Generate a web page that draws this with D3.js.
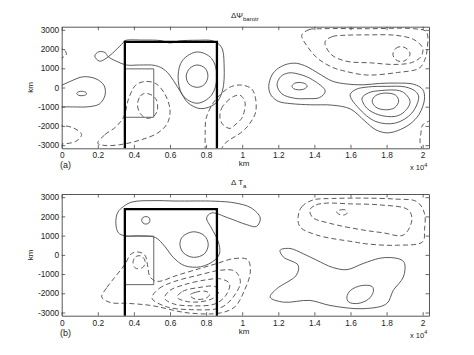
<html lang='en'>
<head>
<meta charset='utf-8'>
<title>Delta Psi barotr and Delta Ta</title>
<script src="https://d3js.org/d3.v7.min.js"></script>
<style>
  body { margin: 0; background: #fff; }
  text { font-family: "Liberation Sans", Arial, sans-serif; fill: #222; }
</style>
</head>
<body>
<script>
// ---- data (x in units of 1e4 km, y in km) ----
var xTicks = [0, 0.2, 0.4, 0.6, 0.8, 1, 1.2, 1.4, 1.6, 1.8, 2];
var yTicks = [-3000, -2000, -1000, 0, 1000, 2000, 3000];

// outlined regions drawn on both panels
var bigBox = [[0.35, -3300], [0.35, 2380], [0.86, 2380], [0.86, -3300]];
var smallBox = [[0.35, 970], [0.51, 970], [0.51, -1550], [0.35, -1550]];

// panel (a) delta psi barotr : positive contours (solid)
var psiPosClosed = [
  [[0.083,-310],[0.095,-220],[0.115,-200],[0.135,-260],[0.137,-350],[0.12,-420],[0.095,-410]],
  [[0.35,2440],[0.45,2470],[0.55,2440],[0.6,2320],[0.65,2420],[0.75,2460],[0.84,2420],[0.885,2100],[0.9,1100],[0.89,-200],[0.85,-850],[0.77,-1100],[0.7,-800],[0.66,-250],[0.62,350],[0.575,880],[0.52,1140],[0.43,1170],[0.36,1170],[0.3,1380],[0.258,1600],[0.24,1820],[0.205,1860],[0.183,1640],[0.21,1370],[0.258,1600],[0.3,1950],[0.34,2330]],
  [[0.645,600],[0.67,1420],[0.75,1850],[0.83,1520],[0.86,600],[0.83,-400],[0.75,-820],[0.67,-400]],
  [[0.69,600],[0.71,1000],[0.75,1170],[0.795,1000],[0.81,580],[0.79,150],[0.75,10],[0.705,180]],
  [[1.147,50],[1.165,650],[1.2,1000],[1.25,1220],[1.3,1260],[1.36,1080],[1.42,750],[1.5,330],[1.58,180],[1.67,140],[1.76,210],[1.86,230],[1.95,170],[2.0,-100],[2.01,-600],[1.98,-1400],[1.93,-1900],[1.86,-2250],[1.8,-2360],[1.74,-2200],[1.68,-1750],[1.6,-1120],[1.5,-920],[1.38,-900],[1.27,-840],[1.2,-720],[1.16,-400]],
  [[1.193,140],[1.215,580],[1.258,760],[1.32,680],[1.39,400],[1.46,-180],[1.43,-520],[1.36,-580],[1.29,-560],[1.22,-330]],
  [[1.276,70],[1.29,220],[1.32,260],[1.35,190],[1.36,60],[1.34,-90],[1.31,-120],[1.285,-60]],
  [[1.598,-380],[1.63,-100],[1.7,30],[1.8,60],[1.904,30],[1.96,-200],[1.978,-500],[1.94,-1330],[1.85,-1850],[1.74,-1770],[1.645,-1070]],
  [[1.664,-550],[1.7,-280],[1.756,-170],[1.885,-210],[1.93,-730],[1.9,-1250],[1.85,-1500],[1.756,-1420],[1.69,-1070]],
  [[1.72,-700],[1.74,-420],[1.793,-290],[1.85,-400],[1.867,-700],[1.845,-1050],[1.793,-1160],[1.74,-1020]]
];
var psiPosOpen = [
  [[-0.02,20],[0.05,330],[0.12,560],[0.19,450],[0.235,100],[0.24,-400],[0.21,-850],[0.15,-1000],[0.06,-1010],[-0.02,-1000]]
];
// panel (a) negative contours (dashed)
var psiNegClosed = [
  [[0.2,-2900],[0.24,-2450],[0.3,-2050],[0.345,-1500],[0.37,-600],[0.41,120],[0.46,310],[0.52,210],[0.57,-310],[0.6,-1170],[0.585,-1870],[0.53,-2380],[0.43,-2750],[0.32,-2980],[0.24,-3020]],
  [[0.42,-900],[0.435,-450],[0.46,-310],[0.5,-400],[0.525,-650],[0.53,-1170],[0.51,-1500],[0.47,-1600],[0.435,-1350]],
  [[0.877,-1610],[0.885,-1100],[0.905,-830],[0.95,-480],[0.988,-400],[1.015,-745],[1.01,-1300],[0.997,-1610],[0.96,-1950],[0.932,-2130],[0.895,-1950]],
  [[1.33,2720],[1.37,3010],[1.45,3060],[1.7,3060],[1.95,3060],[2.02,2900],[2.025,2000],[2.01,1400],[1.98,1000],[1.86,780],[1.69,650],[1.57,850],[1.5,1050],[1.42,1500],[1.36,2150]],
  [[1.459,2380],[1.5,2650],[1.57,2720],[1.7,2740],[1.847,2720],[1.95,2500],[2.0,2050],[1.99,1600],[1.94,1300],[1.847,1200],[1.717,1280],[1.57,1380],[1.49,1750]],
  [[1.835,1740],[1.85,2030],[1.88,2130],[1.915,2000],[1.93,1740],[1.91,1450],[1.88,1350],[1.85,1450]]
];
var psiNegOpen = [
  [[-0.02,2150],[0.02,1900],[0.025,1700],[-0.02,1450]],
  [[-0.02,-1950],[0.064,-2100],[0.11,-2450],[0.075,-2820],[-0.02,-2950]],
  [[0.795,-3300],[0.795,-2400],[0.8,-1610],[0.84,-800],[0.885,-310],[0.94,50],[0.997,125],[1.05,-50],[1.07,-400],[1.075,-1265],[1.04,-1900],[1.0,-2300],[0.905,-2910],[0.88,-3300]],
  [[2.05,-1700],[2.0,-1950],[1.99,-2400],[1.985,-2800],[2.0,-3300]]
];

// panel (b) delta Ta : positive contours (solid)
var taPosClosed = [
  [[0.3,1640],[0.31,2200],[0.342,2510],[0.39,2750],[0.517,2820],[0.628,2800],[0.85,2790],[0.96,2700],[1.05,2440],[1.1,1920],[1.08,1480],[1.025,1570],[0.923,1920],[0.83,2180],[0.803,1920],[0.83,1390],[0.867,700],[0.875,100],[0.85,-260],[0.77,-620],[0.68,-560],[0.62,-150],[0.57,450],[0.52,900],[0.434,990],[0.35,990],[0.314,1150]],
  [[0.655,540],[0.67,950],[0.73,1200],[0.79,1000],[0.812,540],[0.79,50],[0.73,-130],[0.675,100]],
  [[0.443,1800],[0.45,1940],[0.466,1990],[0.483,1940],[0.489,1800],[0.483,1660],[0.466,1600],[0.45,1660]],
  [[1.21,240],[1.265,330],[1.34,50],[1.413,-280],[1.5,-650],[1.58,-770],[1.67,-450],[1.76,-180],[1.82,-140],[1.88,-250],[1.9,-450],[1.893,-1150],[1.837,-1850],[1.8,-2540],[1.67,-2800],[1.486,-2630],[1.375,-2370],[1.228,-2460],[1.155,-2200],[1.192,-1760],[1.3,-1060],[1.31,-540],[1.228,-110]],
  [[1.58,-2200],[1.6,-1850],[1.66,-1600],[1.72,-1650],[1.727,-1900],[1.7,-2300],[1.64,-2530],[1.59,-2450]]
];
var taPosOpen = [];
// panel (b) negative contours (dashed)
var taNegClosed = [
  [[1.31,1990],[1.33,2500],[1.394,2860],[1.5,2930],[1.67,2950],[1.85,2900],[1.967,2770],[2.01,2160],[2.01,1300],[2.0,680],[1.855,500],[1.7,560],[1.615,680],[1.413,1030],[1.32,1460]],
  [[1.375,2340],[1.41,2600],[1.468,2690],[1.6,2650],[1.76,2600],[1.92,2340],[1.94,1810],[1.893,1030],[1.78,1150],[1.67,1290],[1.486,1640],[1.39,1950]],
  [[1.523,2250],[1.545,2340],[1.575,2320],[1.58,2150],[1.56,2070],[1.535,2120]],
  [[0.222,-2200],[0.25,-1700],[0.3,-1100],[0.35,-500],[0.385,50],[0.42,150],[0.46,0],[0.475,-500],[0.49,-1150],[0.53,-1380],[0.64,-1060],[0.766,-710],[0.86,-450],[0.95,-200],[1.03,-250],[1.045,-900],[1.01,-1900],[0.96,-2700],[0.88,-3020],[0.7,-3020],[0.5,-2640],[0.36,-2520],[0.27,-2480]],
  [[0.395,-400],[0.41,-100],[0.44,-60],[0.462,-320],[0.45,-650],[0.41,-700]],
  [[0.5,-2250],[0.54,-1750],[0.62,-1400],[0.76,-1050],[0.88,-800],[0.96,-850],[0.99,-1400],[0.95,-2200],[0.88,-2750],[0.72,-2850],[0.58,-2700]],
  [[0.57,-2250],[0.6,-1850],[0.68,-1550],[0.8,-1300],[0.88,-1250],[0.93,-1500],[0.91,-2100],[0.85,-2550],[0.72,-2650],[0.62,-2550]],
  [[0.64,-2200],[0.67,-1900],[0.76,-1700],[0.85,-1650],[0.87,-1900],[0.84,-2250],[0.76,-2450],[0.68,-2400]],
  [[0.71,-2100],[0.74,-1950],[0.8,-1900],[0.82,-2050],[0.8,-2250],[0.74,-2300]]
];
var taNegOpen = [];

// ---- layout ----
var width = 474, height = 355;
var panels = [
  {key: 'a', title: ['\u0394\u03A8', 'barotr'], top: 26.7, bottom: 148.3,
   pos: psiPosClosed, posOpen: psiPosOpen, neg: psiNegClosed, negOpen: psiNegOpen},
  {key: 'b', title: ['\u0394 T', 'a'], top: 194, bottom: 315.7,
   pos: taPosClosed, posOpen: taPosOpen, neg: taNegClosed, negOpen: taNegOpen}
];

var svg = d3.select('body').append('svg')
  .attr('width', width)
  .attr('height', height);

var x = d3.scaleLinear().domain([0, 2.035]).range([61.7, 429]);

panels.forEach(function(p) {
  var y = d3.scaleLinear().domain([-3165, 3165]).range([p.bottom, p.top]);
  var g = svg.append('g');

  g.append('clipPath').attr('id', 'clip-' + p.key)
    .append('rect')
    .attr('x', x(0)).attr('y', p.top)
    .attr('width', x(2.035) - x(0)).attr('height', p.bottom - p.top);

  var closed = d3.line().x(function(d){ return x(d[0]); }).y(function(d){ return y(d[1]); })
    .curve(d3.curveCatmullRomClosed.alpha(0.5));
  var open = d3.line().x(function(d){ return x(d[0]); }).y(function(d){ return y(d[1]); })
    .curve(d3.curveCatmullRom.alpha(0.5));

  var cg = g.append('g').attr('clip-path', 'url(#clip-' + p.key + ')')
    .attr('fill', 'none').attr('stroke', '#4a4a4a').attr('stroke-width', 0.9);

  cg.selectAll('path.pos').data(p.pos).enter().append('path')
    .attr('class', 'pos').attr('d', closed);
  cg.selectAll('path.posopen').data(p.posOpen).enter().append('path')
    .attr('class', 'posopen').attr('d', open);
  cg.selectAll('path.neg').data(p.neg).enter().append('path')
    .attr('class', 'neg').attr('d', closed).attr('stroke-dasharray', '5,3');
  cg.selectAll('path.negopen').data(p.negOpen).enter().append('path')
    .attr('class', 'negopen').attr('d', open).attr('stroke-dasharray', '5,3');

  // small thin box, then thick box
  cg.append('path')
    .attr('d', d3.line().x(function(d){ return x(d[0]); }).y(function(d){ return y(d[1]); })(smallBox) + 'Z')
    .attr('stroke', '#555').attr('stroke-width', 0.9);
  cg.append('path')
    .attr('d', d3.line().x(function(d){ return x(d[0]); }).y(function(d){ return y(d[1]); })(bigBox))
    .attr('stroke', '#000').attr('stroke-width', 2.3);

  // axes: inward ticks on all four sides
  var fmt = function(d){ return String(d); };
  var bottomAx = g.append('g').attr('transform', 'translate(0,' + p.bottom + ')')
    .call(d3.axisBottom(x).tickValues(xTicks).tickSizeInner(-3.5).tickSizeOuter(0).tickPadding(4).tickFormat(fmt));
  var topAx = g.append('g').attr('transform', 'translate(0,' + p.top + ')')
    .call(d3.axisTop(x).tickValues(xTicks).tickSizeInner(-3.5).tickSizeOuter(0).tickFormat(''));
  var leftAx = g.append('g').attr('transform', 'translate(' + x(0) + ',0)')
    .call(d3.axisLeft(y).tickValues(yTicks).tickSizeInner(-3.5).tickSizeOuter(0).tickPadding(2.5).tickFormat(fmt));
  var rightAx = g.append('g').attr('transform', 'translate(' + x(2.035) + ',0)')
    .call(d3.axisRight(y).tickValues(yTicks).tickSizeInner(-3.5).tickSizeOuter(0).tickFormat(''));

  [bottomAx, topAx, leftAx, rightAx].forEach(function(a) {
    a.selectAll('path.domain').attr('stroke', '#444').attr('stroke-width', 0.9);
    a.selectAll('line').attr('stroke', '#444').attr('stroke-width', 0.8);
    a.selectAll('text').attr('font-size', '8.3px').attr('fill', '#222')
      .attr('font-family', '"Liberation Sans", Arial, sans-serif');
  });

  // axis labels
  var midY = (p.top + p.bottom) / 2;
  g.append('text').attr('x', 244).attr('y', p.bottom + 18)
    .attr('text-anchor', 'middle').attr('font-size', '8px').text('km');
  g.append('text').attr('transform', 'translate(33,' + midY + ') rotate(-90)')
    .attr('text-anchor', 'middle').attr('font-size', '8px').text('km');

  var ex = g.append('text').attr('x', 410).attr('y', p.bottom + 22).attr('font-size', '7.5px');
  ex.append('tspan').text('x 10');
  ex.append('tspan').attr('dy', -3.5).attr('font-size', '5.5px').text('4');

  g.append('text').attr('x', 60).attr('y', p.bottom + 20).attr('font-size', '9px')
    .text('(' + p.key + ')');

  var t = g.append('text').attr('x', 231).attr('y', p.top - 9).attr('font-size', '8px');
  t.append('tspan').text(p.title[0]);
  t.append('tspan').attr('dy', 3).attr('font-size', '6px').text(p.title[1]);
});
</script>
</body>
</html>
